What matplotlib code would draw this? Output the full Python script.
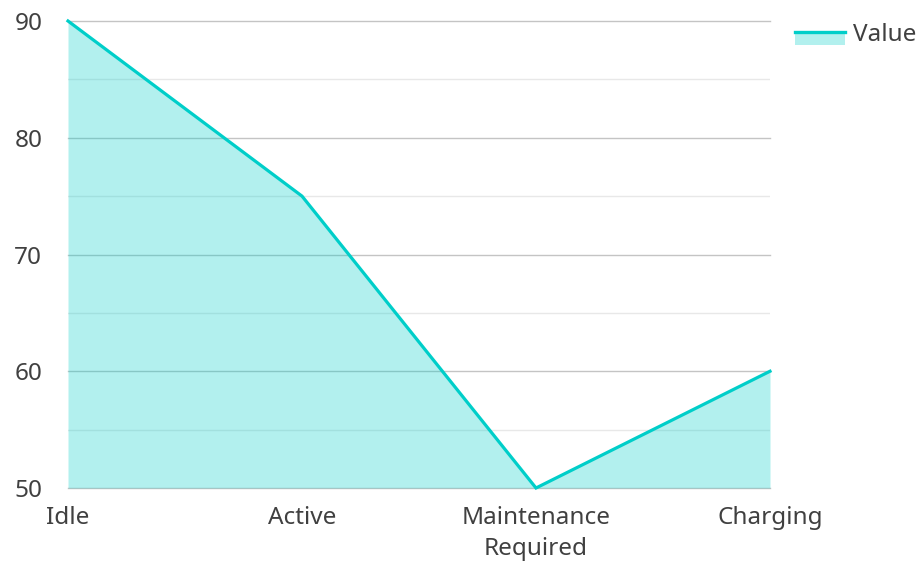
import matplotlib
matplotlib.use("Agg")
import matplotlib.pyplot as plt
from matplotlib.legend_handler import HandlerBase
from matplotlib.patches import Rectangle
from matplotlib.lines import Line2D

plt.rcParams['font.family'] = ['Noto Sans', 'DejaVu Sans']

categories = ["Idle", "Active", "Maintenance\nRequired", "Charging"]
values = [90, 75, 50, 60]
y_ticks = [50, 60, 70, 80, 90]
y_minor = [55, 65, 75, 85]

LINE = "#00cec9"
TEXT = "#404040"
FS = 17.5


class AreaHandler(HandlerBase):
    """Legend key: translucent block with a solid line along its top."""
    def create_artists(self, legend, orig_handle, xdescent, ydescent,
                       width, height, fontsize, trans):
        top = height * 0.55
        bottom = -height * 0.25
        rect = Rectangle((-xdescent, bottom - ydescent), width, top - bottom,
                         facecolor=LINE, alpha=0.3, edgecolor="none", transform=trans)
        line = Line2D([-xdescent, -xdescent + width], [top - ydescent, top - ydescent],
                      color=LINE, lw=2.4, transform=trans)
        return [rect, line]


fig = plt.figure(figsize=(9.2, 5.62), dpi=100)
ax = fig.add_axes([68 / 920, 1 - 488 / 562, (770 - 68) / 920, (488 - 21) / 562])

x = list(range(len(categories)))
ax.set_xlim(0, len(categories) - 1)
ax.set_ylim(50, 90)

for v in y_ticks:
    ax.axhline(v, color="#c4c4c4", lw=1.0, zorder=0, clip_on=False)
for v in y_minor:
    ax.axhline(v, color="#e8e8e8", lw=1.0, zorder=0)

ax.fill_between(x, values, 50, color=LINE, alpha=0.3, lw=0, zorder=1)
ax.plot(x, values, color=LINE, lw=2.3, zorder=3, solid_joinstyle="miter", clip_on=False)

for s in ax.spines.values():
    s.set_visible(False)

ax.set_yticks(y_ticks)
ax.set_xticks(x)
ax.set_xticklabels(categories, linespacing=1.4)
ax.tick_params(axis="both", length=0, labelsize=FS, colors=TEXT)
ax.tick_params(axis="y", pad=18.5)
ax.tick_params(axis="x", pad=13)

handle = object()
fig.legend([handle], ["Value"], handler_map={object: AreaHandler()},
           loc="center left", bbox_to_anchor=(795 / 920, 1 - 35 / 562),
           frameon=False, fontsize=FS, labelcolor=TEXT,
           handlelength=2.05, handletextpad=0.33, borderpad=0, borderaxespad=0)

fig.savefig("out.png", dpi=100)
